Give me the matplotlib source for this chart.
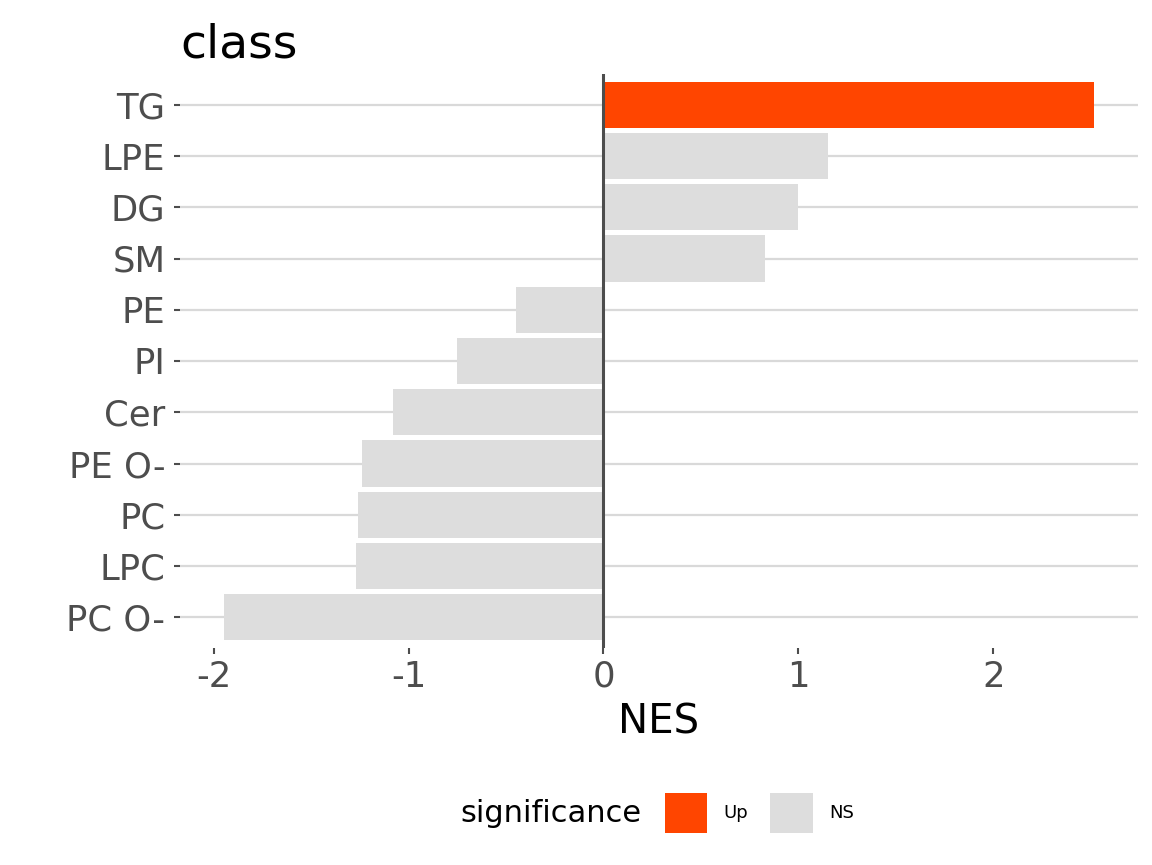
import matplotlib
matplotlib.use('Agg')
import matplotlib.pyplot as plt
from matplotlib.patches import Patch
import numpy as np

# data
classes = ['TG', 'LPE', 'DG', 'SM', 'PE', 'PI', 'Cer', 'PE O-', 'PC', 'LPC', 'PC O-']
nes = [2.52, 1.15, 1.00, 0.83, -0.45, -0.75, -1.08, -1.24, -1.26, -1.27, -1.95]
significance = ['Up', 'NS', 'NS', 'NS', 'NS', 'NS', 'NS', 'NS', 'NS', 'NS', 'NS']
sig_levels = ['Up', 'NS']
sig_colors = {'Up': '#FF4500', 'NS': '#DDDDDD'}

fig = plt.figure(figsize=(11.52, 8.65), dpi=100)
ax = fig.add_axes([180/1152, 1 - 648/865, (1138-180)/1152, (648-74)/865])

ypos = np.arange(len(classes))
ax.barh(ypos, nes, height=0.9, color=[sig_colors[s] for s in significance], zorder=2)
ax.axvline(0, color='#4D4D4D', lw=2.2, zorder=3)

# ggplot-ish minimal theme
lo, hi = min(nes), max(nes)
pad = (hi - lo) * 0.05
ax.set_xlim(lo - pad, hi + pad)
ax.set_ylim(len(classes) - 0.4, -0.6)
ax.set_yticks(ypos)
ax.set_yticklabels(classes)
ax.set_xticks([-2, -1, 0, 1, 2])
ax.set_xticklabels(['-2', '-1', '0', '1', '2'])
for s in ax.spines.values():
    s.set_visible(False)
ax.grid(axis='y', color='#D9D9D9', lw=1.6, zorder=0)
ax.grid(axis='x', visible=False)
ax.tick_params(axis='both', labelsize=25.5, labelcolor='#4D4D4D', color='#4D4D4D',
               length=4.5, width=1.5)
ax.tick_params(axis='y', pad=6)
ax.tick_params(axis='x', pad=4)
ax.set_xlabel('NES', fontsize=29, labelpad=6)
ax.set_title('class', fontsize=34, loc='left', pad=12)

# legend along the bottom, title on the left
handles = [Patch(facecolor=sig_colors[s], edgecolor='none', label=s) for s in sig_levels]
fig.text(460/1152, 1 - 813/865, 'significance', fontsize=22, va='center', ha='left')
fig.legend(handles=handles, loc='center left', bbox_to_anchor=(665/1152, 1 - 813/865),
           ncol=2, frameon=False, fontsize=13, handlelength=2.35, handleheight=3.1,
           handletextpad=0.9, columnspacing=1.2, borderaxespad=0, borderpad=0)

fig.savefig('out.png', dpi=100)
